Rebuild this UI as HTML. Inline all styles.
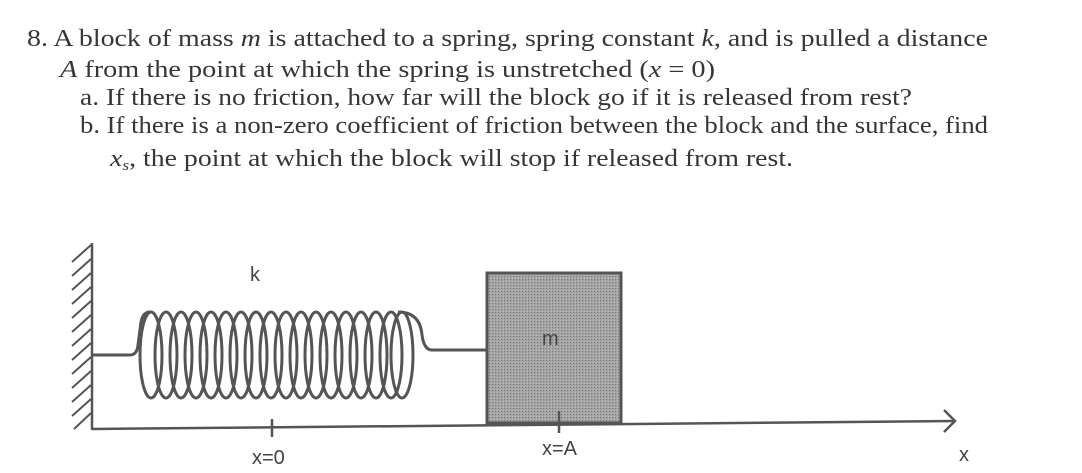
<!DOCTYPE html>
<html><head><meta charset="utf-8"><style>
html,body{margin:0;padding:0;background:#fff;}
svg{display:block;}
.t{font-family:"Liberation Serif",serif;font-size:24px;fill:#363636;}
.s{font-family:"Liberation Sans",sans-serif;font-size:20px;fill:#444;}
</style></head><body>
<svg width="1082" height="473" viewBox="0 0 1082 473" xmlns="http://www.w3.org/2000/svg">
<defs>
<pattern id="dots" width="3" height="3" patternUnits="userSpaceOnUse">
<rect width="3" height="3" fill="#a4a4a4"/><rect width="1" height="1" fill="#777"/><rect x="2" y="2" width="1" height="1" fill="#c0c0c0"/>
</pattern>
</defs>
<text class="t" x="27" y="46" textLength="961" lengthAdjust="spacingAndGlyphs">8.  A block of mass <tspan font-style="italic">m</tspan> is attached to a spring, spring constant <tspan font-style="italic">k</tspan>, and is pulled a distance</text>
<text class="t" x="60" y="77" textLength="655" lengthAdjust="spacingAndGlyphs"><tspan font-style="italic">A</tspan> from the point at which the spring is unstretched (<tspan font-style="italic">x</tspan> = 0)</text>
<text class="t" x="80" y="105" textLength="832" lengthAdjust="spacingAndGlyphs">a.  If there is no friction, how far will the block go if it is released from rest?</text>
<text class="t" x="80" y="133" textLength="908" lengthAdjust="spacingAndGlyphs">b.  If there is a non-zero coefficient of friction between the block and the surface, find</text>
<text class="t" x="110" y="166" textLength="683" lengthAdjust="spacingAndGlyphs"><tspan font-style="italic">x<tspan font-size="15" dy="4">s</tspan></tspan><tspan dy="-4">, the point at which the block will stop if released from rest.</tspan></text>

<g stroke="#555" stroke-width="2.5" fill="none">
<line x1="92" y1="243" x2="92" y2="430"/>
<g stroke-width="2">
<line x1="72" y1="262" x2="91" y2="245"/><line x1="72" y1="276" x2="91" y2="259"/><line x1="72" y1="290" x2="91" y2="273"/><line x1="72" y1="304" x2="91" y2="287"/><line x1="72" y1="318" x2="91" y2="301"/><line x1="72" y1="332" x2="91" y2="315"/><line x1="72" y1="346" x2="91" y2="329"/><line x1="72" y1="360" x2="91" y2="343"/><line x1="72" y1="374" x2="91" y2="357"/><line x1="72" y1="388" x2="91" y2="371"/><line x1="72" y1="402" x2="91" y2="385"/><line x1="72" y1="416" x2="91" y2="399"/><line x1="74" y1="429" x2="91" y2="413"/>
</g>
<path d="M92 429 L955 421"/>
<path d="M944 410 L955 421 L944 432"/>
<line x1="272" y1="419" x2="272" y2="437"/>
<g stroke-width="3">
<path d="M92 355 L130 355 Q137 355 138 345 L141 322 Q143 312 150 312"/>
<path d="M398 312 Q420 312 422 335 Q424 350 432 350 L486 350"/>
<ellipse cx="151" cy="355" rx="11" ry="43"/><ellipse cx="166" cy="355" rx="11" ry="43"/><ellipse cx="181" cy="355" rx="11" ry="43"/><ellipse cx="196" cy="355" rx="11" ry="43"/><ellipse cx="211" cy="355" rx="11" ry="43"/><ellipse cx="226" cy="355" rx="11" ry="43"/><ellipse cx="241" cy="355" rx="11" ry="43"/><ellipse cx="256" cy="355" rx="11" ry="43"/><ellipse cx="271" cy="355" rx="11" ry="43"/><ellipse cx="286" cy="355" rx="11" ry="43"/><ellipse cx="301" cy="355" rx="11" ry="43"/><ellipse cx="316" cy="355" rx="11" ry="43"/><ellipse cx="331" cy="355" rx="11" ry="43"/><ellipse cx="346" cy="355" rx="11" ry="43"/><ellipse cx="361" cy="355" rx="11" ry="43"/><ellipse cx="376" cy="355" rx="11" ry="43"/><ellipse cx="391" cy="355" rx="11" ry="43"/><ellipse cx="402" cy="355" rx="11" ry="43"/>
</g>
<rect x="487" y="273" width="134" height="150" fill="url(#dots)" stroke="#555" stroke-width="3"/>
<line x1="559" y1="411" x2="559" y2="433"/>
</g>
<text class="s" x="250" y="281">k</text>
<text class="s" x="542" y="345" font-size="17" fill="#555">m</text>
<text class="s" x="252" y="464">x=0</text>
<text class="s" x="542" y="455">x=A</text>
<text class="s" x="959" y="461">x</text>
</svg>
</body></html>
